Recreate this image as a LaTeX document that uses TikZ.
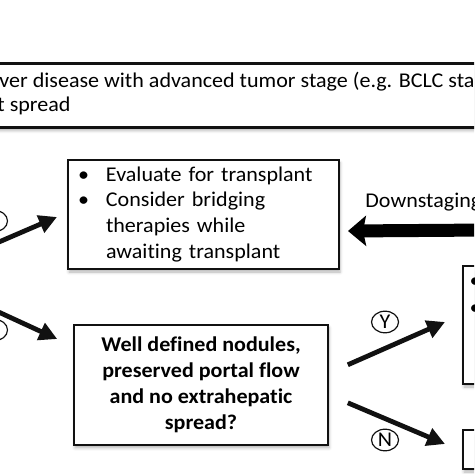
\documentclass[tikz,border=0pt]{standalone}
\usepackage{fontspec}
\setmainfont{Carlito}[FakeStretch=1.05, Ligatures={NoCommon}]
\usetikzlibrary{shadows.blur, positioning, arrows.meta, shapes.geometric}
\definecolor{LineBlack}{HTML}{111111}
\definecolor{ShadowGray}{HTML}{9A9A9A}

\tikzset{
  stepbox/.style={draw=LineBlack, line width=1pt, fill=white, inner sep=0pt,
    blur shadow={shadow xshift=0.5pt, shadow yshift=-1.5pt, shadow opacity=30, shadow blur radius=1.5pt}},
  choice/.style={draw=LineBlack, ellipse, line width=0.6pt, inner sep=0pt, minimum width=13.5pt, minimum height=10.8pt},
  flowarrow/.style={draw=LineBlack, line width=2.4pt, -{Triangle[length=9pt, width=9pt]}},
  bigarrow/.style={draw=black, line width=6.5pt, -{Stealth[length=9pt, width=15pt, inset=1.5pt]}},
}

\begin{document}
\begin{tikzpicture}[x=0.5pt, y=-0.5pt, font=\fontsize{10.5}{12.8}\selectfont]
\useasboundingbox (0,0) rectangle (474,474);
\clip (0,0) rectangle (474,474);

% header box, cut by the frame
\node[stepbox, line width=1.5pt, anchor=north west, minimum width=280pt, minimum height=32pt] (topbox) at (-20,62) {};
\node[anchor=base west, inner sep=0pt] (topline) at (-1,88) {ver disease with advanced tumor stage (e.g. BCLC sta};
\node[anchor=base west, inner sep=0pt] (topspread) at (-3,112) {t spread};

% transplant box
\node[
    stepbox,
    anchor=north west,
    minimum width=135.5pt,
    minimum height=54.5pt,
    text width=125.5pt,
    inner xsep=5pt,
    align=left
] (evalbox) at (67,159) {%
    \begin{tabular}{@{}l@{}l@{}}
    \makebox[14pt][l]{\textbullet} & Evaluate for transplant\\
    \makebox[14pt][l]{\textbullet} & Consider bridging\\
     & therapies while\\
     & awaiting transplant
    \end{tabular}%
};

% decision box
\node[
    stepbox,
    line width=0.8pt,
    below=27pt of evalbox,
    xshift=-1.25pt,
    minimum width=127pt,
    minimum height=60pt,
    align=center,
    font=\fontsize{10.5}{13}\selectfont\bfseries
] (nodulesbox) {Well defined nodules,\\preserved portal flow\\and no extrahepatic\\spread?};

% boxes on the right, cut by the frame
\node[stepbox, anchor=north west, minimum width=40pt, minimum height=59pt] (listbox) at (462,265) {};
\node[anchor=center, inner sep=0pt] (dotone) at (475,283) {\textbullet};
\node[anchor=center, inner sep=0pt] (dottwo) at (475,310) {\textbullet};
\node[stepbox, anchor=north west, minimum width=40pt, minimum height=19.5pt] (lowbox) at (462,429) {};

% incoming branches from the left
\node[choice] (leftyes) at (-6,221) {};
\node[choice] (leftno) at (-6,330) {};
\coordinate (fromyes) at (-8,245);
\coordinate (fromno) at (-8,309);
\draw[flowarrow] (fromyes) -- ([xshift=-5pt, yshift=-1.25pt]evalbox.west);
\draw[flowarrow] (fromno) -- ([xshift=-8pt, yshift=-7.5pt]nodulesbox.north west);

% yes / no
\draw[flowarrow] ([xshift=9.5pt, yshift=10pt]nodulesbox.east) -- ([xshift=-8.5pt, yshift=1.5pt]listbox.west);
\draw[flowarrow] ([xshift=9.5pt, yshift=-9pt]nodulesbox.east) -- ([xshift=-8.5pt, yshift=2.75pt]lowbox.west);
\node[choice] (yes) at (385,322) {Y};
\node[choice] (no) at (385,440) {N};

% downstaging
\coordinate (fromright) at (490,230);
\draw[bigarrow] (fromright) -- ([xshift=4pt, yshift=-8.25pt]evalbox.east);
\node[anchor=base west, inner sep=0pt] (downlabel) at (365,208) {Downstaging};
\end{tikzpicture}
\end{document}
